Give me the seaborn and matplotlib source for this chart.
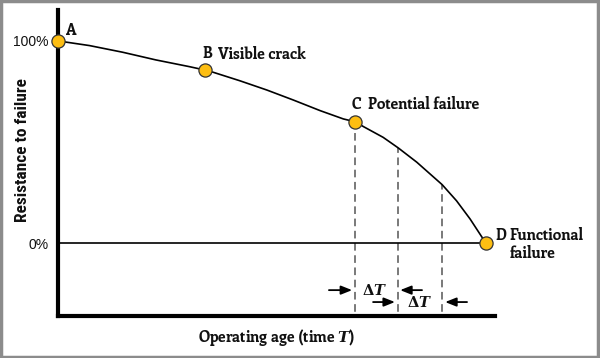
import matplotlib
matplotlib.use("Agg")
import matplotlib.pyplot as plt
from matplotlib.patches import Rectangle
import seaborn as sns

# P-F curve: operating age (arbitrary units) vs resistance (%)
age = [0.0, 0.72, 1.48, 2.24, 3.00, 3.36, 3.55, 4.16, 4.78, 5.38, 6.00, 6.53, 6.80,
       6.99, 7.44, 7.79, 8.21, 8.79, 9.12, 9.43, 9.79]
resistance = [100.0, 97.7, 94.4, 90.6, 87.3, 85.6, 84.5, 80.3, 75.7, 70.8, 65.5, 61.4, 60.0,
              57.6, 52.3, 47.0, 40.0, 28.9, 20.9, 11.9, 0.0]

# labelled points A-D
point_names = ["A", "B", "C", "D"]
point_age = [0.0, 3.36, 6.80, 9.79]
point_res = [100.0, 85.6, 60.0, 0.0]
point_desc = ["", "Visible crack", "Potential failure", "Functional\nfailure"]

# inspection interval lines (dashed) and where they meet the curve
interval_age = [6.80, 7.79, 8.79]
interval_res = [60.0, 47.0, 28.9]

ytick_vals = [0, 100]
ytick_labels = ["0%", "100%"]

SLAB = ["Enriqueta", "Zilla Slab", "DejaVu Serif"]
SANS = ["Roboto Condensed", "Liberation Sans", "DejaVu Sans"]
TICKS = ["Liberation Sans", "DejaVu Sans"]
INK = "#111111"

sns.set_theme(style="white")
plt.rcParams["font.family"] = SLAB
plt.rcParams["mathtext.fontset"] = "custom"
plt.rcParams["mathtext.rm"] = "DejaVu Serif:bold"
plt.rcParams["mathtext.it"] = "DejaVu Serif:bold:italic"

fig = plt.figure(figsize=(6, 3.58), dpi=100)
ax = fig.add_axes([58 / 600, 1 - 316 / 358, 437 / 600, 306 / 358])

sns.lineplot(x=age, y=resistance, ax=ax, color="black", lw=1.2, sort=False, zorder=3)

# 0% line and dashed inspection lines
ax.hlines(0, 0, point_age[-1], color="black", lw=1.2, zorder=2)
for xa, ya in zip(interval_age, interval_res):
    ax.vlines(xa, -40, ya, color="#555555", lw=1.1, linestyles=(0, (5, 3)), zorder=1)

sns.scatterplot(x=point_age, y=point_res, ax=ax, s=90, color="#FDBE12",
                edgecolor="#333333", linewidth=0.9, zorder=5, clip_on=False)

# point labels (letter, then description)
tkw = dict(fontsize=11, fontweight="bold", color=INK)
name_pos = [(0.18, 105.4), (3.30, 94.0), (6.73, 68.3), (10.0, 3.5)]
desc_pos = [None, (3.66, 93.5), (7.09, 68.3), (10.34, -0.7)]
for name, desc, npos, dpos in zip(point_names, point_desc, name_pos, desc_pos):
    ax.text(npos[0], npos[1], name, ha="left", va="center", **tkw)
    if desc:
        ax.text(dpos[0], dpos[1], desc, ha="left", va="center", linespacing=1.05, **tkw)

# delta T interval arrows
akw = dict(arrowstyle="-|>,head_length=0.55,head_width=0.22", color="black", lw=1.3,
           shrinkA=0, shrinkB=0)
ax.annotate("", xy=(6.73, -23.3), xytext=(6.20, -23.3), arrowprops=akw)
ax.annotate("", xy=(7.83, -23.3), xytext=(8.33, -23.3), arrowprops=akw)
ax.annotate("", xy=(7.71, -29.2), xytext=(7.21, -29.2), arrowprops=akw)
ax.annotate("", xy=(8.86, -29.2), xytext=(9.36, -29.2), arrowprops=akw)
ax.text(7.25, -23.3, r"$\Delta T$", ha="center", va="center", fontsize=10.5, color=INK)
ax.text(8.28, -29.2, r"$\Delta T$", ha="center", va="center", fontsize=10.5, color=INK)

ax.set_xlim(0, 10)
ax.set_ylim(-36.1, 115.3)
ax.set_xticks([])
ax.set_yticks(ytick_vals)
ax.set_yticklabels(ytick_labels, family=TICKS, fontsize=10, color=INK)
ax.tick_params(axis="y", length=0, pad=6.5)

for side in ["top", "right"]:
    ax.spines[side].set_visible(False)
for side in ["left", "bottom"]:
    ax.spines[side].set_linewidth(3)
    ax.spines[side].set_color("black")
    ax.spines[side].set_capstyle("projecting")

ax.set_xlabel(r"Operating age (time $T$)", fontsize=11, fontweight="bold", color=INK)
ax.xaxis.set_label_coords(0.5, -0.036)
ax.set_ylabel("Resistance to failure", family=SANS, fontsize=12.5, fontweight="bold", color=INK)
ax.yaxis.set_label_coords(-0.064, 0.542)

# grey frame around the whole picture
fig.patches.append(Rectangle((0.002, 0.003), 0.994, 0.994, transform=fig.transFigure,
                             fill=False, edgecolor="#8c8c8c", lw=2.5))

fig.savefig("out.png", dpi=100)
